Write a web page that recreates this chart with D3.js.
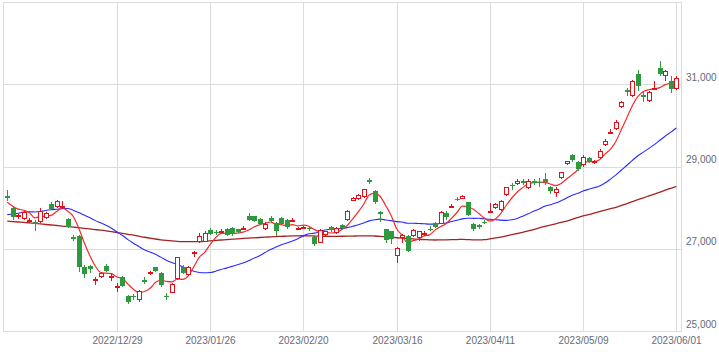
<!DOCTYPE html>
<html>
<head>
<meta charset="utf-8">
<script src="https://cdn.jsdelivr.net/npm/d3@7"></script>
<style>
  html, body { margin: 0; padding: 0; background: #fff; }
  svg { display: block; }
  .lbl { font-family: "Liberation Sans", Arial, sans-serif; font-size: 10px; fill: #666b75; }
</style>
</head>
<body>
<div id="chart"></div>
<script>
// trading days shown on the chart
const dates = [
  '2022/12/01','2022/12/02','2022/12/05','2022/12/06','2022/12/07','2022/12/08','2022/12/09','2022/12/12','2022/12/13','2022/12/14',
  '2022/12/15','2022/12/16','2022/12/19','2022/12/20','2022/12/21','2022/12/22','2022/12/23','2022/12/26','2022/12/27','2022/12/28',
  '2022/12/29','2022/12/30','2023/01/04','2023/01/05','2023/01/06','2023/01/10','2023/01/11','2023/01/12','2023/01/13','2023/01/16',
  '2023/01/17','2023/01/18','2023/01/19','2023/01/20','2023/01/23','2023/01/24','2023/01/25','2023/01/26','2023/01/27','2023/01/30',
  '2023/01/31','2023/02/01','2023/02/02','2023/02/03','2023/02/06','2023/02/07','2023/02/08','2023/02/09','2023/02/10','2023/02/13',
  '2023/02/14','2023/02/15','2023/02/16','2023/02/17','2023/02/20','2023/02/21','2023/02/22','2023/02/24','2023/02/27','2023/02/28',
  '2023/03/01','2023/03/02','2023/03/03','2023/03/06','2023/03/07','2023/03/08','2023/03/09','2023/03/10','2023/03/13','2023/03/14',
  '2023/03/15','2023/03/16','2023/03/17','2023/03/20','2023/03/22','2023/03/23','2023/03/24','2023/03/27','2023/03/28','2023/03/29',
  '2023/03/30','2023/03/31','2023/04/03','2023/04/04','2023/04/05','2023/04/06','2023/04/07','2023/04/10','2023/04/11','2023/04/12',
  '2023/04/13','2023/04/14','2023/04/17','2023/04/18','2023/04/19','2023/04/20','2023/04/21','2023/04/24','2023/04/25','2023/04/26',
  '2023/04/27','2023/04/28','2023/05/01','2023/05/02','2023/05/08','2023/05/09','2023/05/10','2023/05/11','2023/05/12','2023/05/15',
  '2023/05/16','2023/05/17','2023/05/18','2023/05/19','2023/05/22','2023/05/23','2023/05/24','2023/05/25','2023/05/26','2023/05/29',
  '2023/05/30','2023/05/31','2023/06/01'
];

const open = [
  28273,28000,27770,27720,27650,27660,27650,27750,28100,28010,
  28000,27725,27290,27300,26565,26580,26220,26305,26580,26320,
  26075,26320,25850,25850,25760,26230,26380,26550,26420,25850,
  25930,26260,26565,26350,26880,27160,27175,27460,27400,27390,
  27475,27500,27470,27460,27800,27785,27720,27475,27745,27625,
  27745,27700,27660,27500,27510,27500,27295,27150,27335,27520,
  27390,27580,27690,28170,28205,28255,28660,28405,27900,27475,
  27430,26825,27255,27310,27310,27255,27350,27490,27625,27605,
  27865,28010,28210,28220,28130,27605,27580,27650,27895,27985,
  27950,28310,28560,28570,28640,28470,28650,28620,28700,28495,
  28350,28715,29055,29280,29120,29040,29200,29110,29200,29525,
  29820,29905,30440,30865,30725,31250,30740,30600,30880,31390,
  31190,31090,30880
];
const high = [
  28423,28010,27860,27910,27740,27700,27990,27890,28130,28195,
  28170,27740,27340,27330,26610,26610,26320,26440,26620,26400,
  26170,26340,25870,25900,26000,26320,26470,26560,26440,25930,
  26170,26800,26600,26580,26935,27390,27420,27510,27450,27470,
  27500,27530,27480,27560,27860,27800,27740,27640,27800,27640,
  27760,27720,27740,27540,27560,27560,27300,27470,27440,27560,
  27540,27600,27950,28260,28340,28460,28730,28420,27920,27480,
  27440,27050,27360,27330,27490,27440,27420,27560,27640,27910,
  27930,28080,28250,28300,28140,27620,27600,27700,28105,28110,
  28180,28510,28600,28700,28700,28690,28700,28720,28840,28520,
  28490,28870,29140,29300,29130,29280,29240,29170,29420,29660,
  29900,30120,30600,30920,31100,31350,30800,30830,31090,31560,
  31350,31190,31200
];
const low = [
  28163,27690,27720,27700,27620,27420,27620,27720,27950,28000,
  27990,27500,27180,26440,26280,26400,26120,26300,26430,26215,
  25955,26080,25660,25750,25700,26150,26360,26430,26080,25760,
  25920,26250,26380,26330,26810,27150,27160,27340,27330,27380,
  27300,27320,27380,27450,27670,27640,27580,27460,27620,27300,
  27580,27480,27640,27480,27480,27440,27060,27140,27320,27400,
  27360,27460,27680,28150,28190,28240,28570,28100,27650,27130,
  27110,26660,27150,26930,27290,27200,27300,27420,27500,27590,
  27700,27990,28150,28200,27790,27420,27480,27590,27870,27970,
  27930,28290,28430,28540,28560,28450,28540,28500,28560,28330,
  28260,28700,29030,29120,28880,29000,29080,29060,29180,29500,
  29780,29880,30420,30720,30700,30830,30560,30560,30860,31200,
  31090,30780,30860
];
const close = [
  28226,27780,27820,27885,27690,27590,27930,27870,27970,28160,
  28050,27540,27237,26568,26388,26508,26260,26420,26447,26345,
  26095,26095,25717,25820,25975,26200,26446,26449,26120,25822,
  26140,26791,26405,26553,26910,27299,27395,27362,27382,27440,
  27330,27350,27402,27509,27693,27685,27606,27600,27670,27430,
  27610,27520,27700,27515,27531,27473,27104,27453,27423,27460,
  27516,27499,27927,28237,28309,28444,28623,28144,27833,27222,
  27229,27010,27333,26945,27466,27420,27385,27476,27518,27883,
  27782,28041,28188,28287,27813,27472,27518,27634,27923,28082,
  28156,28493,28515,28658,28607,28657,28590,28593,28620,28416,
  28457,28856,29123,29158,28950,29242,29122,29127,29388,29626,
  29843,30093,30573,30808,31086,30957,30682,30801,30916,31240,
  31320,30887,31148
];

// moving averages (5, 25 and 75 days)
const ma5 = [
  28133,28033,27964,27936,27880,27753,27783,27793,27810,27904,
  27996,27918,27791,27511,27157,26848,26592,26429,26405,26396,
  26313,26280,26140,26014,25940,25961,26032,26178,26238,26207,
  26195,26264,26256,26342,26560,26792,26912,27104,27270,27376,
  27382,27373,27381,27406,27457,27528,27579,27619,27651,27598,
  27583,27566,27586,27555,27575,27548,27465,27415,27397,27383,
  27391,27470,27565,27728,27898,28083,28308,28351,28271,28053,
  27810,27488,27325,27148,27197,27235,27310,27338,27453,27536,
  27609,27740,27882,28036,28022,27960,27856,27745,27672,27726,
  27863,28058,28234,28381,28486,28586,28605,28621,28613,28575,
  28535,28588,28694,28802,28909,29066,29119,29120,29166,29301,
  29421,29615,29905,30189,30481,30703,30821,30867,30888,30919,
  30992,31033,31102
];
const ma25 = [
  27830,27844,27863,27894,27898,27895,27905,27932,27950,27962,
  27975,27979,27938,27882,27818,27757,27690,27631,27571,27500,
  27409,27321,27223,27135,27055,26974,26921,26866,26796,26721,
  26663,26617,26559,26502,26452,26422,26416,26421,26454,26496,
  26529,26572,26612,26654,26708,26772,26832,26907,26981,27040,
  27096,27139,27189,27245,27313,27366,27379,27421,27456,27478,
  27486,27491,27513,27547,27582,27627,27678,27707,27720,27701,
  27683,27659,27649,27620,27621,27613,27608,27599,27599,27613,
  27626,27663,27693,27727,27741,27739,27740,27728,27716,27707,
  27695,27690,27705,27738,27793,27850,27914,27964,28031,28069,
  28111,28169,28235,28301,28344,28402,28445,28483,28527,28599,
  28694,28797,28915,29030,29150,29262,29350,29441,29532,29637,
  29743,29835,29938
];
const ma75 = [
  27670,27660,27650,27640,27628,27615,27603,27590,27578,27565,
  27552,27540,27527,27512,27497,27482,27467,27452,27435,27415,
  27395,27375,27352,27330,27305,27280,27258,27237,27218,27203,
  27190,27180,27174,27172,27172,27175,27182,27192,27203,27213,
  27222,27232,27242,27250,27258,27266,27274,27282,27290,27296,
  27302,27308,27312,27315,27316,27314,27310,27306,27304,27303,
  27303,27304,27306,27309,27312,27314,27314,27310,27303,27293,
  27281,27268,27256,27246,27239,27228,27223,27218,27213,27216,
  27218,27220,27224,27228,27224,27216,27216,27221,27239,27262,
  27284,27313,27341,27371,27401,27435,27468,27507,27544,27577,
  27607,27639,27674,27715,27757,27798,27829,27865,27903,27939,
  27973,28009,28052,28098,28146,28195,28239,28285,28330,28377,
  28426,28469,28517
];

const yTicks = [25000, 27000, 29000, 31000];
const xTicks = ['2022/12/29','2023/01/26','2023/02/20','2023/03/16','2023/04/11','2023/05/09','2023/06/01'];

const width = 719, height = 352;
const plot = { left: 3, right: 681, top: 2, bottom: 331 };

const upColor = '#e3101a', downColor = '#2f9a3d';

const svg = d3.select('#chart')
    .append('svg')
    .attr('width', width)
    .attr('height', height);

const x = d3.scalePoint()
    .domain(dates)
    .range([7.3, 676.3]);

const y = d3.scaleLinear()
    .domain([25000, 33000])
    .range([plot.bottom, plot.top]);

const px = d => Math.round(x(d));

// grid
const grid = svg.append('g').attr('stroke', '#dcdcdc').attr('stroke-width', 1).attr('shape-rendering', 'crispEdges');
grid.selectAll('.vg')
    .data(xTicks)
    .join('line')
        .attr('x1', d => px(d) + 0.5)
        .attr('x2', d => px(d) + 0.5)
        .attr('y1', plot.top)
        .attr('y2', plot.bottom);
grid.selectAll('.hg')
    .data(yTicks.filter(v => v > 25000))
    .join('line')
        .attr('x1', plot.left)
        .attr('x2', plot.right)
        .attr('y1', d => Math.round(y(d)) + 0.5)
        .attr('y2', d => Math.round(y(d)) + 0.5);
grid.append('rect')
    .attr('x', plot.left + 0.5)
    .attr('y', plot.top + 0.5)
    .attr('width', plot.right - plot.left)
    .attr('height', plot.bottom - plot.top)
    .attr('fill', 'none');

// moving averages
const series = [
  { values: ma75, color: '#a52222', w: 1.3 },
  { values: ma25, color: '#2a2aff', w: 1.1 },
  { values: ma5,  color: '#f52a2a', w: 1.2 }
];
const line = d3.line()
    .x((_, i) => x(dates[i]))
    .y(d => y(d))
    .curve(d3.curveMonotoneX);
svg.append('g')
    .selectAll('path')
    .data(series)
    .join('path')
        .attr('fill', 'none')
        .attr('stroke', d => d.color)
        .attr('stroke-width', d => d.w)
        .attr('d', d => line(d.values));

// candles
const candles = dates.map((d, i) => ({ d, o: open[i], h: high[i], l: low[i], c: close[i] }));
const cg = svg.append('g').attr('shape-rendering', 'crispEdges');
const candle = cg.selectAll('g')
    .data(candles)
    .join('g');

candle.append('line')
    .attr('x1', d => px(d.d) + 0.5)
    .attr('x2', d => px(d.d) + 0.5)
    .attr('y1', d => y(d.h))
    .attr('y2', d => y(d.l))
    .attr('stroke', d => d.c >= d.o ? upColor : downColor);

candle.append('rect')
    .attr('x', d => d.c >= d.o ? px(d.d) - 1.5 : px(d.d) - 2)
    .attr('width', d => d.c >= d.o ? 4 : 5)
    .attr('y', d => y(Math.max(d.o, d.c)) + (d.c >= d.o ? 0.5 : 0))
    .attr('height', d => Math.max(1, Math.abs(y(d.o) - y(d.c)) - (d.c >= d.o ? 1 : 0)))
    .attr('fill', d => d.c >= d.o ? '#fff' : downColor)
    .attr('stroke', d => d.c >= d.o ? upColor : 'none')
    .attr('stroke-width', 1);

// y labels
svg.append('g')
    .selectAll('text')
    .data(yTicks)
    .join('text')
        .attr('class', 'lbl')
        .attr('x', 686)
        .attr('y', d => y(d) - 3.5)
        .text(d => d3.format(',')(d));

// x labels
svg.append('g')
    .selectAll('text')
    .data(xTicks)
    .join('text')
        .attr('class', 'lbl')
        .attr('text-anchor', 'middle')
        .attr('x', d => px(d) + 0.5)
        .attr('y', 344)
        .text(d => d);
</script>
</body>
</html>
